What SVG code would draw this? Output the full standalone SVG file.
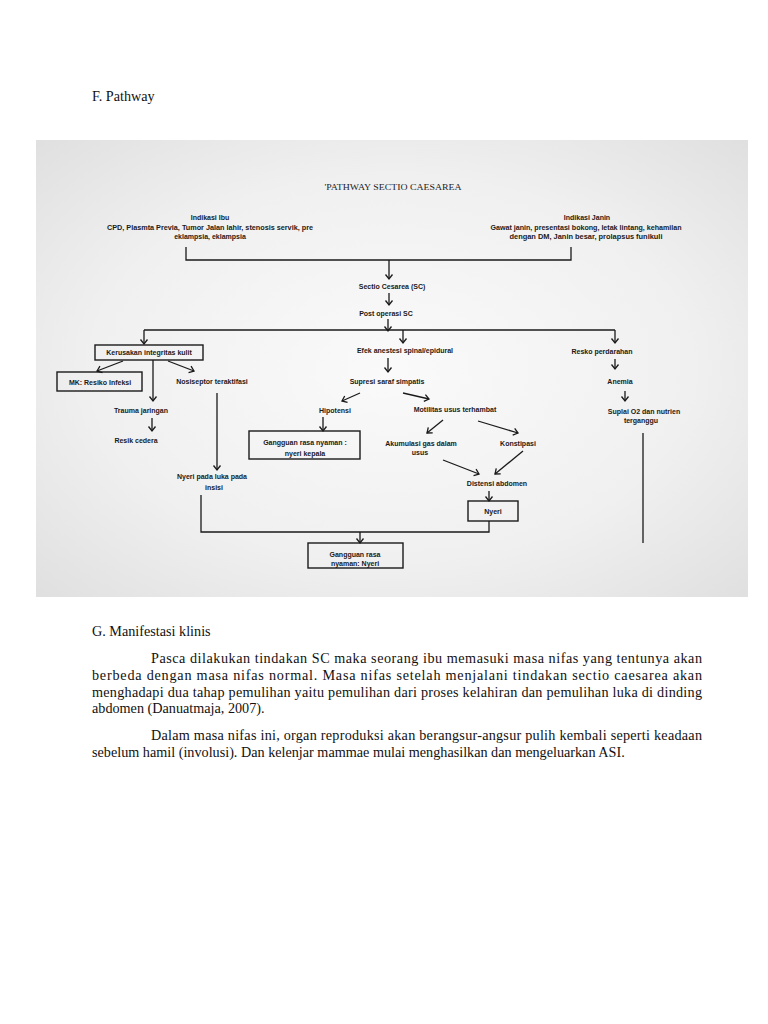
<svg xmlns="http://www.w3.org/2000/svg" width="768" height="1024" viewBox="0 0 768 1024">
<defs>
<radialGradient id="bg" cx="0.5" cy="0.5" r="0.7">
<stop offset="0" stop-color="#fafafa"/>
<stop offset="0.6" stop-color="#f0f0f0"/>
<stop offset="1" stop-color="#e0e0e0"/>
</radialGradient>
<marker id="ah" markerUnits="userSpaceOnUse" markerWidth="10" markerHeight="10" refX="0" refY="0" viewBox="-6 -5 8 10" orient="auto" overflow="visible">
<path d="M-4.5,-3.5 L0,0 L-4.5,3.5" fill="none" stroke="#1a1a1a" stroke-width="1.3"/>
</marker>
<style>
.d{font-family:"Liberation Sans",Arial,sans-serif;font-size:7px;fill:#1a1a1a;text-anchor:middle;font-weight:bold}
.b{fill:none;stroke:#1a1a1a;stroke-width:1.4}
.c{fill:none;stroke:#1a1a1a;stroke-width:1.3}
.a{fill:none;stroke:#1a1a1a;stroke-width:1.3;marker-end:url(#ah)}
.p{font-family:"Liberation Serif","Times New Roman",serif;font-size:14.2px;fill:#111}
</style>
</defs>
<rect width="768" height="1024" fill="#ffffff"/>
<text class="p" x="92" y="101">F. Pathway</text>
<rect x="36" y="140" width="712" height="457" fill="url(#bg)"/>

<g id="title"><text x="393" y="190" font-family="Liberation Serif,serif" font-size="8" fill="#222" text-anchor="middle" textLength="137" lengthAdjust="spacingAndGlyphs">'PATHWAY SECTIO CAESAREA</text></g>

<g id="indikasi-ibu">
<text class="d" x="210" y="220">Indikasi Ibu</text>
<text class="d" x="210" y="229.5" textLength="206" lengthAdjust="spacingAndGlyphs">CPD, Plasmta Previa, Tumor Jalan lahir, stenosis servik, pre</text>
<text class="d" x="210" y="239">eklampsia, eklampsia</text>
</g>
<g id="indikasi-janin">
<text class="d" x="587" y="220">Indikasi Janin</text>
<text class="d" x="586" y="229.5" textLength="191" lengthAdjust="spacingAndGlyphs">Gawat janin, presentasi bokong, letak lintang, kehamilan</text>
<text class="d" x="586" y="239" textLength="153" lengthAdjust="spacingAndGlyphs">dengan DM, Janin besar, prolapsus funikuli</text>
</g>
<g id="sc"><text class="d" x="392" y="289" font-size="7.5">Sectio Cesarea (SC)</text></g>
<g id="post-op"><text class="d" x="386" y="316">Post operasi SC</text></g>
<g id="kerusakan"><rect class="b" x="95" y="345" width="108" height="15"/><text class="d" x="149" y="355">Kerusakan integritas kulit</text></g>
<g id="efek"><text class="d" x="405" y="353">Efek anestesi spinal/epidural</text></g>
<g id="resko"><text class="d" x="602" y="354">Resko perdarahan</text></g>
<g id="mk"><rect class="b" x="57" y="372" width="85" height="19"/><text class="d" x="100" y="384.5">MK: Resiko Infeksi</text></g>
<g id="nosiseptor"><text class="d" x="212" y="384">Nosiseptor teraktifasi</text></g>
<g id="trauma"><text class="d" x="141" y="413">Trauma jaringan</text></g>
<g id="resik"><text class="d" x="136" y="443">Resik cedera</text></g>
<g id="supresi"><text class="d" x="387" y="384">Supresi saraf simpatis</text></g>
<g id="anemia"><text class="d" x="620" y="384">Anemia</text></g>
<g id="hipotensi"><text class="d" x="335" y="413">Hipotensi</text></g>
<g id="motilitas"><text class="d" x="455" y="412">Motilitas usus terhambat</text></g>
<g id="suplai"><text class="d" x="644" y="414">Suplai O2 dan nutrien</text><text class="d" x="641" y="423">terganggu</text></g>
<g id="nyeri-kepala"><rect class="b" x="249" y="431" width="111" height="28"/><text class="d" x="305" y="445">Gangguan rasa nyaman :</text><text class="d" x="305" y="455.5">nyeri kepala</text></g>
<g id="akumulasi"><text class="d" x="421" y="446">Akumulasi gas dalam</text><text class="d" x="420" y="455">usus</text></g>
<g id="konstipasi"><text class="d" x="518" y="446">Konstipasi</text></g>
<g id="nyeri-luka"><text class="d" x="212" y="479">Nyeri pada luka pada</text><text class="d" x="214" y="490">insisi</text></g>
<g id="distensi"><text class="d" x="497" y="486">Distensi abdomen</text></g>
<g id="nyeri"><rect class="b" x="468" y="501" width="50" height="20"/><text class="d" x="493" y="513.5">Nyeri</text></g>
<g id="gangguan-nyeri"><rect class="b" x="308" y="543" width="95" height="25"/><text class="d" x="355" y="557">Gangguan rasa</text><text class="d" x="355" y="566">nyaman: Nyeri</text></g>

<g id="connectors">
<path class="c" d="M186,247 V260 H571 V247"/>
<path class="a" d="M389,260 V279"/>
<path class="a" d="M389,293 V305"/>
<path class="a" d="M388,319 V331"/>
<path class="c" d="M144,330 H615"/>
<path class="a" d="M144,330 V344"/>
<path class="a" d="M615,330 V343"/>
<path class="a" d="M403,330 V343"/>
<path class="a" d="M123,361 L97,371"/>
<path class="a" d="M153,360 V401"/>
<path class="a" d="M168,361 L194,371"/>
<path class="a" d="M152,418 V431"/>
<path class="a" d="M217,393 V470"/>
<path class="a" d="M388,358 V372"/>
<path class="a" d="M360,393 L342,401"/>
<path class="a" d="M403,393 L429,399"/>
<path class="a" d="M323,417 V431"/>
<path class="a" d="M443,420 L427,433"/>
<path class="a" d="M478,421 L518,433"/>
<path class="a" d="M443,460 L479,474"/>
<path class="a" d="M523,451 L495,474"/>
<path class="a" d="M489,491 V501"/>
<path class="a" d="M615,359 V369"/>
<path class="a" d="M625,391 V401"/>
<path class="c" d="M643,433 V543"/>
<path class="c" d="M201,495 V532 H489 V521"/>
<path class="a" d="M360,532 V543"/>
</g>

<text class="p" x="92" y="636">G. Manifestasi klinis</text>
<text class="p" x="151" y="663" textLength="551" lengthAdjust="spacing">Pasca dilakukan tindakan SC maka seorang ibu memasuki masa nifas yang tentunya akan</text>
<text class="p" x="92" y="680" textLength="610" lengthAdjust="spacing">berbeda dengan masa nifas normal. Masa nifas setelah menjalani tindakan sectio caesarea akan</text>
<text class="p" x="92" y="697" textLength="610" lengthAdjust="spacing">menghadapi dua tahap pemulihan yaitu pemulihan dari proses kelahiran dan pemulihan luka di dinding</text>
<text class="p" x="92" y="713">abdomen (Danuatmaja, 2007).</text>
<text class="p" x="151" y="740" textLength="551" lengthAdjust="spacing">Dalam masa nifas ini, organ reproduksi akan berangsur-angsur pulih kembali seperti keadaan</text>
<text class="p" x="92" y="757">sebelum hamil (involusi). Dan kelenjar mammae mulai menghasilkan dan mengeluarkan ASI.</text>
</svg>
